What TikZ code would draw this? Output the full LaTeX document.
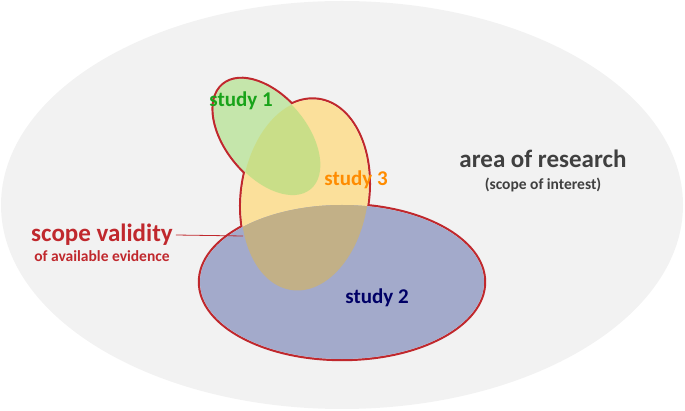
\documentclass[tikz,border=0pt]{standalone}
\usepackage{fontspec}
\setmainfont{Carlito}
\begin{document}
\begin{tikzpicture}[x=1pt,y=-1pt,
  lbl/.style={inner sep=0pt}]
\useasboundingbox (0,0) rectangle (685,411);
\definecolor{bgg}{HTML}{F2F2F2}
\definecolor{redl}{HTML}{C0282D}
\definecolor{bluef}{HTML}{A3AACB}
\definecolor{yelf}{HTML}{FBE09B}
\definecolor{grnf}{HTML}{A8DE7C}
\definecolor{tanf}{HTML}{C2B087}
\fill[bgg] (342,205) ellipse (341 and 204);
\def\shA{(267,137) ellipse [x radius=68, y radius=40, rotate=-50]}
\def\shB{(305,195) ellipse [x radius=63, y radius=96, rotate=-8]}
\def\shC{(342,282) ellipse [x radius=142, y radius=77]}
\draw[redl, line width=4.4pt] \shA;
\draw[redl, line width=4.4pt] \shB;
\draw[redl, line width=4.4pt] \shC;
\fill[bgg] \shA; \fill[bgg] \shB; \fill[bgg] \shC;
\fill[yelf] \shB;
\fill[bluef] \shC;
\begin{scope}
  \clip \shC;
  \fill[tanf] \shB;
\end{scope}
\fill[grnf, opacity=0.6] \shA;
\node[lbl, text=green!60!black!90, font=\bfseries\fontsize{21}{24}\selectfont] (s1) at (241,101) {study 1};
\node[lbl, text=orange!90!yellow, font=\bfseries\fontsize{21}{24}\selectfont] (s3) at (356,180) {study 3};
\node[lbl, text=blue!40!black, font=\bfseries\fontsize{21}{24}\selectfont] (s2) at (377,298) {study 2};
\node[lbl, text=black!75, font=\bfseries\fontsize{25}{28}\selectfont] (ar) at (543,159) {area of research};
\node[lbl, text=black!75, font=\bfseries\fontsize{15.5}{18}\selectfont] (sc) at (543,185) {(scope of interest)};
\node[lbl, text=redl, font=\bfseries\fontsize{25}{28}\selectfont] (sv) at (102,235) {scope validity};
\node[lbl, text=redl, font=\bfseries\fontsize{15.5}{18}\selectfont] (ae) at (102,256) {of available evidence};
\coordinate (edge) at (243,236);
\draw[redl, line width=0.8pt] (sv.east) ++(3,0) -- (edge);
\end{tikzpicture}
\end{document}
